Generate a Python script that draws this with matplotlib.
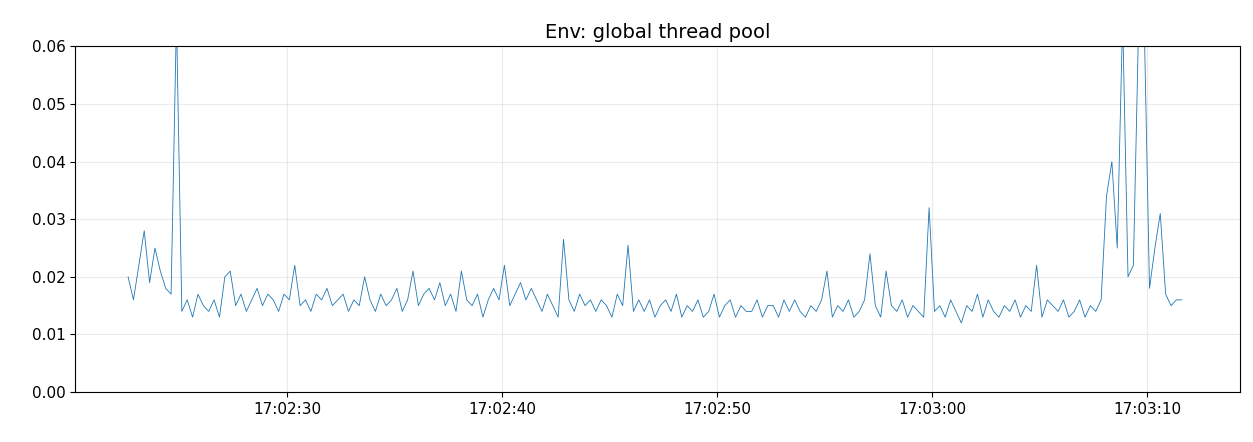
import numpy as np
import matplotlib
matplotlib.use("Agg")
import matplotlib.pyplot as plt
import matplotlib.dates as mdates
from datetime import datetime, timedelta

start = datetime(2024, 1, 1, 17, 2, 22, 600000)
step_s = 0.25
values = [
0.020,0.016,0.022,0.028, 0.019,0.025,0.021,0.018, 0.017,0.065,0.014,0.016,
0.013,0.017,0.015,0.014, 0.016,0.013,0.020,0.021, 0.015,0.017,0.014,0.016,
0.018,0.015,0.017,0.016, 0.014,0.017,0.016,0.022, 0.015,0.016,0.014,0.017,
0.016,0.018,0.015,0.016, 0.017,0.014,0.016,0.015, 0.020,0.016,0.014,0.017,
0.015,0.016,0.018,0.014, 0.016,0.021,0.015,0.017, 0.018,0.016,0.019,0.015,
0.017,0.014,0.021,0.016, 0.015,0.017,0.013,0.016, 0.018,0.016,0.022,0.015,
0.017,0.019,0.016,0.018, 0.016,0.014,0.017,0.015, 0.013,0.0265,0.016,0.014,
0.017,0.015,0.016,0.014, 0.016,0.015,0.013,0.017, 0.015,0.0255,0.014,0.016,
0.014,0.016,0.013,0.015, 0.016,0.014,0.017,0.013, 0.015,0.014,0.016,0.013,
0.014,0.017,0.013,0.015, 0.016,0.013,0.015,0.014, 0.014,0.016,0.013,0.015,
0.015,0.013,0.016,0.014, 0.016,0.014,0.013,0.015, 0.014,0.016,0.021,0.013,
0.015,0.014,0.016,0.013, 0.014,0.016,0.024,0.015, 0.013,0.021,0.015,0.014,
0.016,0.013,0.015,0.014, 0.013,0.032,0.014,0.015, 0.013,0.016,0.014,0.012,
0.015,0.014,0.017,0.013, 0.016,0.014,0.013,0.015, 0.014,0.016,0.013,0.015,
0.014,0.022,0.013,0.016, 0.015,0.014,0.016,0.013, 0.014,0.016,0.013,0.015,
0.014,0.016,0.034,0.040, 0.025,0.065,0.020,0.022, 0.065,0.065,0.018,0.025,
0.031,0.017,0.015,0.016, 0.016,
]
times = [start + timedelta(seconds=step_s * i) for i in range(len(values))]

fig, ax = plt.subplots(figsize=(12.53, 4.42), dpi=100)
fig.subplots_adjust(left=0.06, right=0.99, top=0.895, bottom=0.113)
ax.plot(times, values, color="#1f77b4", linewidth=0.6)
ax.set_title("Env: global thread pool", fontsize=14)
ax.set_ylim(0, 0.06)
ax.set_xlim(datetime(2024, 1, 1, 17, 2, 20, 140000), datetime(2024, 1, 1, 17, 3, 14, 330000))
ax.xaxis.set_major_locator(mdates.SecondLocator(bysecond=range(0, 60, 10)))
ax.xaxis.set_major_formatter(mdates.DateFormatter("%H:%M:%S"))
ax.tick_params(labelsize=11)
ax.grid(True, alpha=0.25)
fig.savefig("out.png")
